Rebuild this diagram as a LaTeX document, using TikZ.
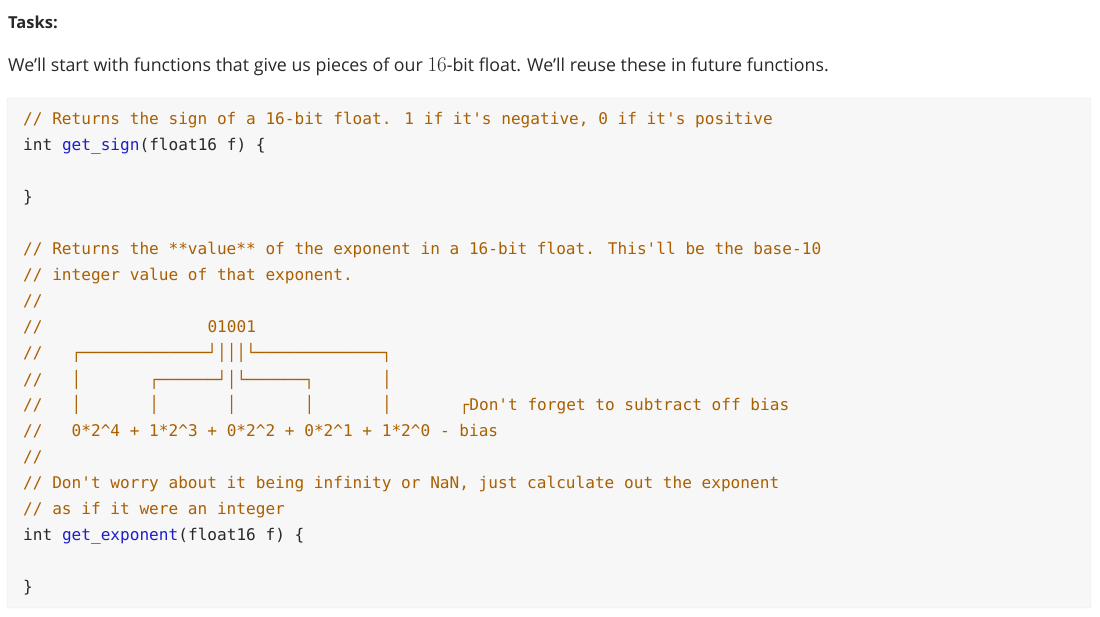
\documentclass[tikz,border=0pt]{standalone}
\usepackage{fontspec}
\setmainfont{Open Sans}
\newfontfamily\codefont{DejaVu Sans Mono}
\definecolor{cmt}{RGB}{170,95,0}
\definecolor{fn}{RGB}{30,30,200}
\definecolor{dk}{RGB}{40,40,40}
\definecolor{boxfill}{RGB}{247,247,247}
\definecolor{boxline}{RGB}{228,228,228}
\tikzset{code/.style={inner sep=0pt,anchor=base west,font=\codefont\fontsize{16.1}{18}\selectfont}}
\newcommand\cl[4]{\node[code,text=#4] at ({23+#2*9.7},{#1+5}) {#3};}
\begin{document}
\begin{tikzpicture}[x=1pt,y=-1pt]
\useasboundingbox (0,0) rectangle (1100,617);
\node[inner sep=0pt,anchor=west,font=\bfseries\fontsize{16.5}{18}\selectfont,text=dk] (title) at (8,22) {Tasks:};
\node[inner sep=0pt,anchor=west,font=\fontsize{17.8}{20}\selectfont,text=dk] (para) at (8,67) {We'll start with functions that give us pieces of our {\fontspec{Latin Modern Roman}\fontsize{21}{22}\selectfont 16}-bit float. We'll reuse these in future functions.};
\draw[boxline,fill=boxfill,rounded corners=2pt] (7,98) rectangle (1091,608);
\cl{120}{0}{// Returns the sign of a 16-bit float. 1 if it's negative, 0 if it's positive}{cmt}
\cl{146}{0}{int}{dk}\cl{146}{4}{get\_sign}{fn}\cl{146}{12}{(float16 f) \{}{dk}
\cl{198}{0}{\}}{dk}
\cl{250}{0}{// Returns the **value** of the exponent in a 16-bit float. This'll be the base-10}{cmt}
\cl{276}{0}{// integer value of that exponent.}{cmt}
\cl{302}{0}{//}{cmt}
\cl{328}{0}{//}{cmt}\cl{328}{19}{01001}{cmt}
\cl{354}{0}{//}{cmt}\cl{354}{5}{┌─────────────┘│││└─────────────┐}{cmt}
\cl{380}{0}{//}{cmt}\cl{380}{5}{│}{cmt}\cl{380}{13}{┌──────┘│└──────┐}{cmt}\cl{380}{37}{│}{cmt}
\cl{405}{0}{//}{cmt}\cl{405}{5}{│}{cmt}\cl{405}{13}{│}{cmt}\cl{405}{21}{│}{cmt}\cl{405}{29}{│}{cmt}\cl{405}{37}{│}{cmt}\cl{405}{45}{┌Don't forget to subtract off bias}{cmt}
\cl{431}{0}{//}{cmt}\cl{431}{5}{0*2\textasciicircum4 + 1*2\textasciicircum3 + 0*2\textasciicircum2 + 0*2\textasciicircum1 + 1*2\textasciicircum0 - bias}{cmt}
\cl{457}{0}{//}{cmt}
\cl{483}{0}{// Don't worry about it being infinity or NaN, just calculate out the exponent}{cmt}
\cl{509}{0}{// as if it were an integer}{cmt}
\cl{535}{0}{int}{dk}\cl{535}{4}{get\_exponent}{fn}\cl{535}{16}{(float16 f) \{}{dk}
\cl{587}{0}{\}}{dk}
\end{tikzpicture}
\end{document}
